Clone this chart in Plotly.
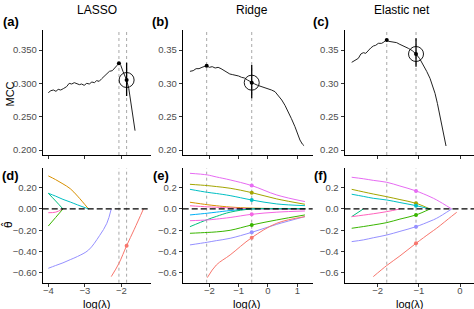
import plotly.graph_objects as go

# ---------------- data ----------------
# MCC curves (top row)
lasso_mcc_x = [-4.00, -3.93, -3.86, -3.79, -3.73, -3.66, -3.59, -3.50, -3.43, -3.36, -3.29, -3.22,
               -3.15, -3.09, -3.02, -2.95, -2.88, -2.81, -2.74, -2.68, -2.61, -2.54, -2.47, -2.40,
               -2.33, -2.25, -2.18, -2.12, -2.07, -2.02, -1.96, -1.90, -1.86, -1.80, -1.74, -1.68, -1.63]
lasso_mcc_y = [0.286, 0.289, 0.290, 0.288, 0.291, 0.290, 0.292, 0.295, 0.300, 0.299, 0.301, 0.300,
               0.298, 0.299, 0.297, 0.300, 0.299, 0.302, 0.301, 0.304, 0.303, 0.307, 0.311, 0.315,
               0.318, 0.319, 0.324, 0.327, 0.330, 0.327, 0.318, 0.310, 0.305, 0.292, 0.270, 0.248, 0.229]

ridge_mcc_x = [-2.66, -2.55, -2.45, -2.35, -2.25, -2.15, -2.09, -2.00, -1.90, -1.80, -1.70, -1.60,
               -1.50, -1.41, -1.30, -1.20, -1.12, -1.00, -0.90, -0.80, -0.70, -0.554, -0.45, -0.35,
               -0.27, -0.15, 0.01, 0.12, 0.24, 0.35, 0.47, 0.58, 0.69, 0.80, 0.92, 1.00, 1.09, 1.17, 1.23]
ridge_mcc_y = [0.318, 0.319, 0.322, 0.322, 0.324, 0.325, 0.3265, 0.324, 0.325, 0.323, 0.324, 0.322,
               0.319, 0.316, 0.314, 0.313, 0.3125, 0.311, 0.309, 0.308, 0.305, 0.301, 0.299, 0.297,
               0.296, 0.294, 0.2925, 0.290, 0.2875, 0.282, 0.275, 0.267, 0.2575, 0.247, 0.235, 0.225,
               0.215, 0.209, 0.2065]

enet_mcc_x = [-2.632, -2.55, -2.471, -2.41, -2.35, -2.29, -2.228, -2.17, -2.107, -2.05, -1.985,
              -1.903, -1.85, -1.798, -1.73, -1.66, -1.60, -1.538, -1.48, -1.417, -1.34, -1.256,
              -1.16, -1.069, -0.98, -0.892, -0.81, -0.729, -0.667, -0.607, -0.55, -0.486, -0.42, -0.34]
enet_mcc_y = [0.3315, 0.334, 0.3375, 0.344, 0.346, 0.345, 0.350, 0.353, 0.356, 0.357, 0.360,
              0.360, 0.362, 0.365, 0.363, 0.3625, 0.361, 0.361, 0.359, 0.3575, 0.355, 0.3525,
              0.349, 0.344, 0.337, 0.3275, 0.318, 0.3075, 0.297, 0.285, 0.270, 0.250, 0.228, 0.206]

# best lambda (max MCC) and selected lambda (circle) with its error bar
lasso_best = [-2.07, 0.330]
lasso_sel = [-1.86, 0.305, 0.026, 0.024]   # x, y, plus, minus
ridge_best = [-2.09, 0.3265]
ridge_sel = [-0.554, 0.301, 0.0265, 0.0235]
enet_best = [-1.78, 0.365]
enet_sel = [-1.069, 0.344, 0.0235, 0.019]

# coefficient paths (bottom row)
pal_red, pal_orange, pal_olive, pal_green = "#F8766D", "#D89000", "#A3A500", "#39B600"
pal_teal, pal_cyan, pal_blue, pal_purple = "#00BF7D", "#00BFC4", "#00B0F6", "#9590FF"
pal_violet, pal_pink = "#E76BF3", "#FF62BC"

lasso_x = [-4.0, -3.8, -3.6, -3.4, -3.2, -2.9, -2.6, -2.4, -2.28, -2.07, -1.86, -1.65, -1.40]
lasso_orange = [0.31, 0.275, 0.235, 0.19, 0.12, 0.0, None, None, None, None, None, None, None]
lasso_cyan = [0.147, 0.12, 0.09, 0.065, 0.038, 0.0, None, None, None, None, None, None, None]
lasso_teal = [0.147, 0.075, 0.0, None, None, None, None, None, None, None, None, None, None]
lasso_pink = [-0.035, -0.03, 0.0, None, None, None, None, None, None, None, None, None, None]
lasso_green = [-0.16, -0.08, 0.0, None, None, None, None, None, None, None, None, None, None]
lasso_purple = [-0.556, -0.53, -0.505, -0.475, -0.445, -0.385, -0.25, -0.134, 0.0, None, None, None, None]
lasso_red = [None, None, None, None, None, None, None, None, -0.634, -0.51, -0.344, -0.19, 0.0]

ridge_x = [-2.66, -2.07, -1.76, -1.29, -0.554, 0.3, 1.26]
ridge_violet = [0.334, 0.319, 0.30, 0.272, 0.219, 0.131, 0.069]
ridge_olive = [0.231, 0.219, 0.21, 0.194, 0.153, 0.094, 0.044]
ridge_cyan = [0.184, 0.156, 0.145, 0.125, 0.084, 0.047, 0.031]
ridge_orange = [0.063, 0.04, 0.03, 0.018, 0.008, 0.004, 0.002]
ridge_pink1 = [0.03, 0.02, 0.016, 0.01, 0.002, -0.002, -0.003]
ridge_blue = [-0.056, -0.04, -0.03, -0.015, 0.0, 0.003, 0.003]
ridge_teal = [-0.166, -0.10, -0.07, -0.03, 0.0, 0.002, 0.002]
ridge_pink2 = [-0.11, -0.103, -0.095, -0.08, -0.05, -0.03, -0.019]
ridge_green = [-0.228, -0.22, -0.215, -0.20, -0.15, -0.103, -0.056]
ridge_purple = [-0.337, -0.312, -0.297, -0.275, -0.219, -0.144, -0.072]
ridge_red = [None, -0.644, -0.525, -0.431, -0.269, -0.134, -0.072]

enet_x = [-2.632, -2.35, -2.107, -1.78, -1.46, -1.069, -0.729, -0.566, -0.202, -0.08]
enet_violet = [0.297, 0.283, 0.268, 0.25, 0.215, 0.169, 0.115, 0.084, 0.0, None]
enet_olive = [0.184, 0.16, 0.14, 0.115, 0.088, 0.053, 0.0, None, None, None]
enet_cyan = [0.138, 0.118, 0.10, 0.084, 0.06, 0.031, 0.0, None, None, None]
enet_teal = [-0.072, 0.0, None, None, None, None, None, None, None, None]
enet_pink = [-0.072, -0.058, -0.045, -0.025, 0.0, None, None, None, None, None]
enet_green = [-0.181, -0.165, -0.15, -0.128, -0.095, -0.056, 0.0, None, None, None]
enet_purple = [-0.306, -0.29, -0.27, -0.244, -0.21, -0.166, -0.115, -0.087, 0.0, None]
enet_red = [None, None, -0.634, -0.53, -0.44, -0.322, -0.225, -0.18, -0.068, -0.031]

# axis ticks
top_ticks = [0.20, 0.25, 0.30, 0.35]
top_text_a = ["0.200", "0.250", "0.300", "0.350"]
top_text_bc = ["0.20", "0.25", "0.30", "0.35"]
bot_ticks = [-0.6, -0.4, -0.2, 0.0, 0.2]
bot_text_d = ["\u22120.60", "\u22120.40", "\u22120.20", "0.00", "0.20"]
bot_text_ef = ["\u22120.6", "\u22120.4", "\u22120.2", "0.0", "0.2"]
x_ticks_a = [-4, -3, -2]
x_ticks_b = [-2, -1, 0, 1]
x_ticks_c = [-2, -1, 0]

# ---------------- figure ----------------
W, H = 474, 309
fig = go.Figure()
FONT = "Liberation Sans, Arial, sans-serif"
TICKC = "#4d4d4d"

def ax(n):
    return ("x" if n == 1 else f"x{n}"), ("y" if n == 1 else f"y{n}")

# MCC panels
mcc = [(1, lasso_mcc_x, lasso_mcc_y, lasso_best, lasso_sel),
       (2, ridge_mcc_x, ridge_mcc_y, ridge_best, ridge_sel),
       (3, enet_mcc_x, enet_mcc_y, enet_best, enet_sel)]
for n, xs, ys, best, sel in mcc:
    xa, ya = ax(n)
    fig.add_trace(go.Scatter(x=xs, y=ys, mode="lines", line=dict(color="#222222", width=1),
                             xaxis=xa, yaxis=ya, showlegend=False, hoverinfo="skip"))
    fig.add_trace(go.Scatter(x=[best[0]], y=[best[1]], mode="markers",
                             marker=dict(color="black", size=4), xaxis=xa, yaxis=ya, showlegend=False))
    fig.add_trace(go.Scatter(x=[sel[0]], y=[sel[1]], mode="markers",
                             marker=dict(color="black", size=4),
                             error_y=dict(type="data", symmetric=False, array=[sel[2]], arrayminus=[sel[3]],
                                          color="black", thickness=1.3, width=0),
                             xaxis=xa, yaxis=ya, showlegend=False))
    fig.add_trace(go.Scatter(x=[sel[0]], y=[sel[1]], mode="markers",
                             marker=dict(symbol="circle-open", color="black", size=15, line=dict(width=0.9)),
                             xaxis=xa, yaxis=ya, showlegend=False))

# coefficient panels
coef_panels = [
    (4, lasso_x, [(lasso_orange, pal_orange), (lasso_cyan, pal_cyan), (lasso_teal, pal_teal),
                  (lasso_pink, pal_pink), (lasso_green, pal_green), (lasso_purple, pal_purple),
                  (lasso_red, pal_red)], lasso_sel[0]),
    (5, ridge_x, [(ridge_violet, pal_violet), (ridge_olive, pal_olive), (ridge_cyan, pal_cyan),
                  (ridge_orange, pal_orange), (ridge_pink1, pal_pink), (ridge_blue, pal_blue),
                  (ridge_teal, pal_teal), (ridge_pink2, "#F564E3"), (ridge_green, pal_green),
                  (ridge_purple, pal_purple), (ridge_red, pal_red)], ridge_sel[0]),
    (6, enet_x, [(enet_violet, pal_violet), (enet_olive, pal_olive), (enet_cyan, pal_cyan),
                 (enet_teal, pal_teal), (enet_pink, pal_pink), (enet_green, pal_green),
                 (enet_purple, pal_purple), (enet_red, pal_red)], enet_sel[0]),
]
for n, xs, series, xsel in coef_panels:
    xa, ya = ax(n)
    for ys, col in series:
        fig.add_trace(go.Scatter(x=xs, y=ys, mode="lines", line=dict(color=col, width=1, shape="spline"),
                                 connectgaps=False, xaxis=xa, yaxis=ya, showlegend=False, hoverinfo="skip"))
        if xsel in xs:
            v = ys[xs.index(xsel)]
            if v is not None and abs(v) > 0.01:
                fig.add_trace(go.Scatter(x=[xsel], y=[v], mode="markers", marker=dict(color=col, size=4),
                                         xaxis=xa, yaxis=ya, showlegend=False))

# vertical dashed lines
shapes = []
vl = [(1, 4, [lasso_best[0], lasso_sel[0]]), (2, 5, [ridge_best[0], ridge_sel[0]]),
      (3, 6, [enet_best[0], enet_sel[0]])]
for nt, nb, xs in vl:
    for n in (nt, nb):
        xa, ya = ax(n)
        for xv in xs:
            shapes.append(dict(type="line", xref=xa, yref=f"{ya} domain", x0=xv, x1=xv, y0=0, y1=1,
                               line=dict(color="#A8A8A8", width=1, dash="3px,3px"), layer="below"))
# zero dashed line on bottom panels
for n in (4, 5, 6):
    xa, ya = ax(n)
    shapes.append(dict(type="line", xref=f"{xa} domain", yref=ya, x0=0, x1=1, y0=0, y1=0,
                       line=dict(color="black", width=1.3, dash="6px,3px"), layer="above"))

# axes
xdom = [[42.7 / W, 150.7 / W], [182.7 / W, 312.7 / W], [344.5 / W, 1.0]]
xrng = [[-4.153, -1.202], [-2.907, 1.525], [-2.807, 0.340]]
xticks = [x_ticks_a, x_ticks_b, x_ticks_c]
ydom_top = [1 - 155 / H, 1 - 30 / H]
ydom_bot = [1 - 282.7 / H, 1 - 168.3 / H]
layout = {}
common = dict(showline=True, linecolor="black", linewidth=1, ticks="outside", ticklen=3, tickwidth=1,
              tickcolor="#333333", showgrid=False, zeroline=False,
              tickfont=dict(family=FONT, size=9.5, color=TICKC))
for i in range(3):
    for row in (0, 1):
        n = i + 1 + 3 * row
        xa, ya = ax(n)
        xkey = "xaxis" if n == 1 else f"xaxis{n}"
        ykey = "yaxis" if n == 1 else f"yaxis{n}"
        layout[xkey] = dict(common, domain=xdom[i], range=xrng[i], anchor=ya,
                            tickvals=xticks[i], ticktext=[str(t).replace("-", "\u2212") for t in xticks[i]],
                            showticklabels=(row == 1), ticklabelstandoff=-4)
        if row == 0:
            layout[ykey] = dict(common, domain=ydom_top, range=[0.1925, 0.38], anchor=xa,
                                tickvals=top_ticks, ticktext=top_text_a if i == 0 else top_text_bc)
        else:
            layout[ykey] = dict(common, domain=ydom_bot, range=[-0.691, 0.381], anchor=xa,
                                tickvals=bot_ticks, ticktext=bot_text_d if i == 0 else bot_text_ef)

ann = []
def A(text, px, py, size, bold=False, angle=0, color="black", family=FONT):
    ann.append(dict(text=f"<b>{text}</b>" if bold else text, x=px / W, y=1 - py / H, xref="paper",
                    yref="paper", showarrow=False, textangle=angle, xanchor="center", yanchor="middle",
                    font=dict(family=family, size=size, color=color)))

A("LASSO", 97, 10, 12)
A("Ridge", 252, 10, 12)
A("Elastic net", 402, 10, 12)
for t, px, py in [("(a)", 10.5, 21.5), ("(b)", 160.5, 21.5), ("(c)", 321, 21.5),
                  ("(d)", 10.5, 175), ("(e)", 160.5, 175), ("(f)", 320, 175)]:
    A(t, px, py, 13, bold=True)
A("MCC", 9.5, 94, 11, angle=-90)
A("\u03b8\u0302", 8, 224, 11, angle=-90, family="DejaVu Sans")
for px in (96.7, 247, 409.7):
    A("log(\u03bb)", px, 303.5, 11)

fig.update_layout(width=W, height=H, margin=dict(l=0, r=0, t=0, b=0), paper_bgcolor="white",
                  plot_bgcolor="white", shapes=shapes, annotations=ann, showlegend=False,
                  font=dict(family=FONT), **layout)
fig.write_html("out.html")
